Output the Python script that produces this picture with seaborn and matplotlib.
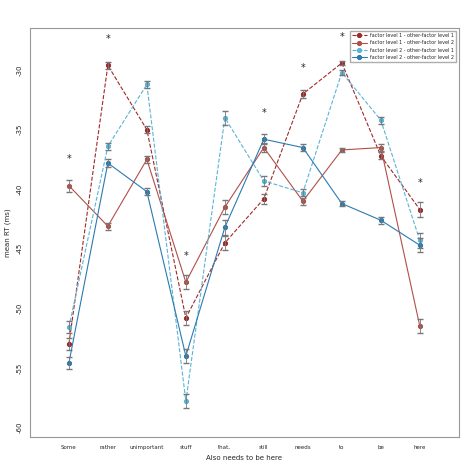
import numpy as np
import pandas as pd
import matplotlib
matplotlib.use("Agg")
import matplotlib.pyplot as plt
import seaborn as sns

words = ['Some', 'rather', 'unimportant', 'stuff', 'that,', 'still', 'needs', 'to', 'be', 'here']
f1_o1 = [-53.0, -29.6, -35.0, -50.8, -44.5, -40.8, -32.0, -29.4, -37.2, -41.7]
f1_o2 = [-39.7, -43.1, -37.5, -47.8, -41.5, -36.5, -41.0, -36.7, -36.5, -51.5]
f2_o1 = [-51.6, -36.4, -31.2, -57.8, -34.0, -39.3, -40.3, -30.2, -34.2, -44.3]
f2_o2 = [-54.6, -37.8, -40.2, -54.0, -43.2, -35.8, -36.5, -41.2, -42.6, -44.7]
errs = [0.5, 0.3, 0.3, 0.6, 0.6, 0.4, 0.3, 0.2, 0.3, 0.6]
star_words = ['Some', 'rather', 'stuff', 'still', 'needs', 'to', 'here']

labels = ['factor level 1 - other-factor level 1', 'factor level 1 - other-factor level 2',
          'factor level 2 - other-factor level 1', 'factor level 2 - other-factor level 2']
series = [f1_o1, f1_o2, f2_o1, f2_o2]
colors = ['#9e2a2a', '#b0504a', '#5ab4d6', '#2b7bb0']
styles = ['--', '-', '--', '-']

rows = []
for lab, vals in zip(labels, series):
    for i, v in enumerate(vals):
        rows.append({'x': i, 'rt': v, 'cond': lab})
df = pd.DataFrame(rows)

sns.set_style('white')
fig, ax = plt.subplots(figsize=(4.74, 4.74), dpi=100)
for lab, col, ls in zip(labels, colors, styles):
    d = df[df.cond == lab]
    sns.lineplot(data=d, x='x', y='rt', color=col, linestyle=ls, lw=0.8,
                 marker='o', markersize=3, markeredgecolor=col, ax=ax, label=lab)
    ax.errorbar(d.x, d.rt, yerr=errs, fmt='none', ecolor='#777777', elinewidth=0.6, capsize=2)

for w in star_words:
    i = words.index(w)
    top = max(s[i] for s in series)
    ax.text(i, top + 2.2, '*', ha='center', va='center', fontsize=7)

ax.set_xlim(-1, 10)
ax.set_ylim(-60.8, -26.5)
ax.set_xticks(range(len(words)))
ax.set_xticklabels(words, fontsize=4)
ax.set_yticks([-60, -55, -50, -45, -40, -35, -30])
ax.set_yticklabels(['-60', '-55', '-50', '-45', '-40', '-35', '-30'], fontsize=5, rotation=90, va='center')
ax.tick_params(length=2, width=0.6, color='#888888')
ax.set_xlabel('Also needs to be here', fontsize=5)
ax.set_ylabel('mean RT (ms)', fontsize=5)
for s in ax.spines.values():
    s.set_color('#999999')
    s.set_linewidth(0.8)
ax.legend(loc='upper right', fontsize=3.5, frameon=True, edgecolor='#999999', fancybox=False,
          handlelength=3)
fig.subplots_adjust(left=0.063, right=0.968, top=0.94, bottom=0.078)
fig.savefig('out.png', dpi=100)
